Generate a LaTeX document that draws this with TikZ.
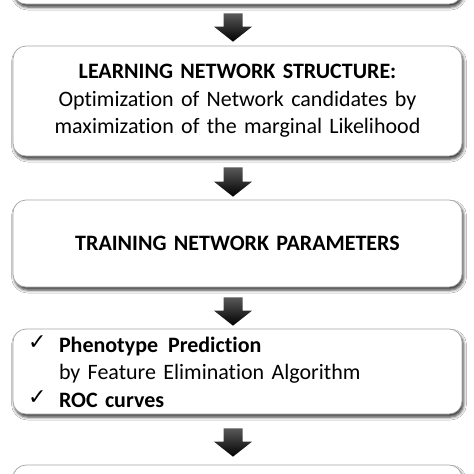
\documentclass[tikz,border=0pt]{standalone}
\usepackage{fontspec}
\setmainfont[RawFeature=-liga]{Carlito}
\newfontfamily\checkfont{DejaVu Sans}
\usetikzlibrary{calc,shadows.blur}
\tikzset{
  box/.style={draw=black!35, line width=0.7pt, fill=white, rounded corners=13pt,
    minimum width=449pt, minimum height=#1, inner sep=0pt,
    blur shadow={shadow xshift=1.5pt, shadow yshift=-3pt, shadow blur radius=3pt, shadow opacity=80},
    font=\fontsize{22}{27.5}\selectfont, align=center, text width=440pt},
  arrowshade/.style={top color=black!65, bottom color=black, draw=none}
}
\newcommand\chk{\makebox[31pt][l]{\raisebox{3pt}{\checkfont\fontsize{22}{22}\selectfont ✓}}}
\newcommand\fatarr[4]{%
  \shade[arrowshade] let \p1=($(#1)+(-4.5,#3)$), \p2=($(#2)+(-4.5,-#4)$) in
    (\x1-9.5pt,\y1) -- (\x1+9.5pt,\y1) -- (\x1+9.5pt,\y2+15pt) -- (\x1+19pt,\y2+15pt)
    -- (\x1,\y2) -- (\x1-19pt,\y2+15pt) -- (\x1-9.5pt,\y2+15pt) -- cycle;}
\begin{document}
\begin{tikzpicture}[x=1pt,y=-1pt]
\useasboundingbox (0,0) rectangle (474,474);
\clip (0,0) rectangle (474,474);
\fill[white] (0,0) rectangle (474,474);
\node[box=80pt] (b1) at (237.5,-36) {};
\node[box=110pt] (b2) at (237.5,101) {\textbf{LEARNING NETWORK STRUCTURE:}\\Optimization of Network candidates by\\maximization of the marginal Likelihood};
\node[box=87pt] (b3) at (237.5,243.5) {\textbf{TRAINING NETWORK PARAMETERS}};
\node[box=85pt, align=left] (b4) at (237.5,371.5) {\hspace*{10.5pt}\chk\textbf{Phenotype\hspace{0.45em}Prediction}\\\hspace*{41.5pt}by Feature Elimination Algorithm\\\hspace*{10.5pt}\chk\textbf{ROC curves}};
\node[box=80pt] (b5) at (237.5,505) {};
\fatarr{b1.south}{b2.north}{9}{4}
\fatarr{b2.south}{b3.north}{11}{3}
\fatarr{b3.south}{b4.north}{10}{3}
\fatarr{b4.south}{b5.north}{14}{8}
\end{tikzpicture}
\end{document}
